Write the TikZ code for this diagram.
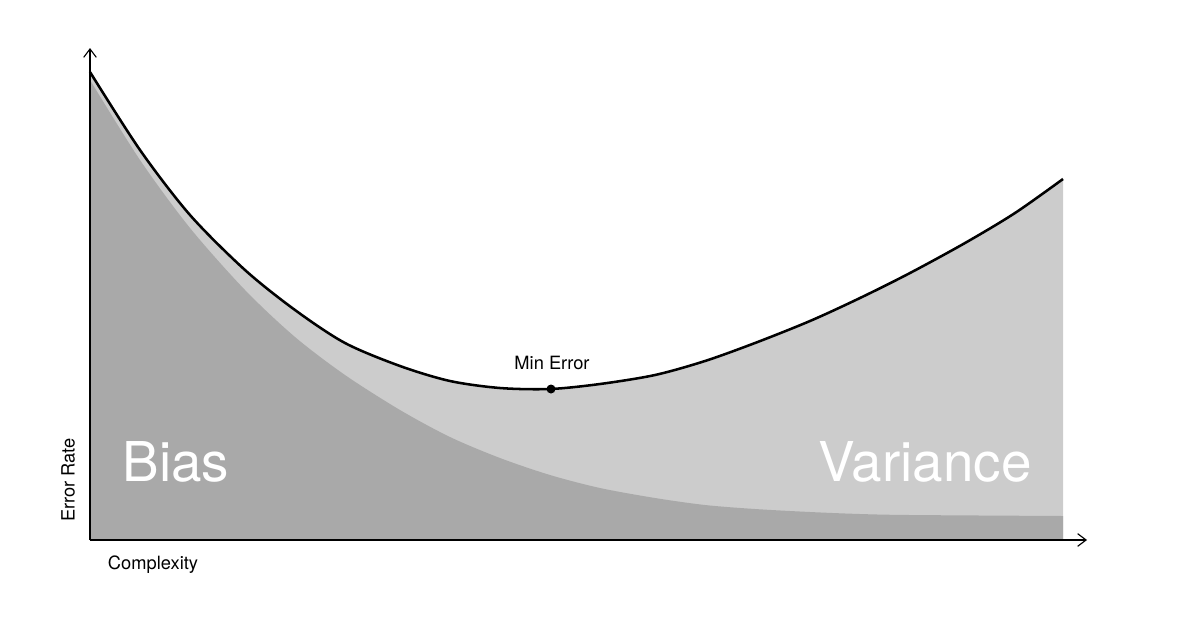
\documentclass[tikz,border=0pt]{standalone}
\usepackage{fontspec}
\setmainfont{TeX Gyre Heros}
\usetikzlibrary{arrows.meta}
\definecolor{darkg}{HTML}{A9A9A9}
\definecolor{lightg}{HTML}{CCCCCC}
\tikzset{lbl/.style={text=white,font=\fontsize{39}{39}\selectfont},
small/.style={font=\fontsize{13}{13}\selectfont},
axis/.style={line width=0.8pt,-{Straight Barb[length=6pt,width=9pt]}}}
\begin{document}
\begin{tikzpicture}[x=0.025cm,y=-0.025cm]
\useasboundingbox (0,0) rectangle (1200,619);
\def\total{(90,72) (140,150) (190,215) (245,270) (295,310) (345,343) (400,366) (450,381) (500,388) (550,389) (600,384) (655,375) (705,361) (755,343) (810,321) (860,298) (910,273) (965,243) (1015,213) (1063,179)}
\fill[lightg] (90,540) -- plot[smooth] coordinates {\total} -- (1063,540) -- cycle;
\fill[darkg] (90,540) -- plot[smooth] coordinates {(90,80) (140,160) (190,228) (245,290) (295,337) (345,375) (400,410) (450,437) (500,458) (550,475) (600,488) (655,498) (705,505) (755,509) (810,512) (860,514) (910,515) (1063,516)} -- (1063,540) -- cycle;
\draw[line width=1.8pt] plot[smooth] coordinates {\total};
\coordinate (o) at (90,540);
\coordinate (ytop) at (90,48);
\coordinate (xend) at (1087,540);
\draw[axis] (o) -- (ytop);
\draw[axis] (o) -- (xend);
\fill (551,389) circle (4.5);
\node[small] (min) at (552,363) {Min Error};
\node[lbl] (bias) at (176,462) {Bias};
\node[lbl] (var) at (925,462) {Variance};
\node[small,rotate=90] (er) at (68,480) {Error Rate};
\node[small] (cx) at (153,565) {Complexity};
\end{tikzpicture}
\end{document}
